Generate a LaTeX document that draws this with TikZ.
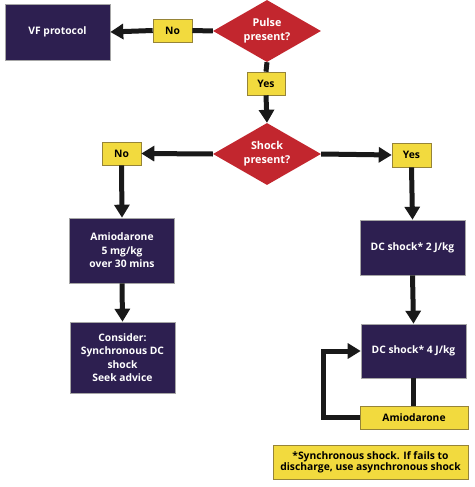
\documentclass[tikz,border=0pt]{standalone}
\usepackage{fontspec}
\setmainfont{Open Sans}
\usetikzlibrary{arrows.meta,shapes.geometric}
\definecolor{algP}{RGB}{45,31,80}
\definecolor{algR}{RGB}{194,38,46}
\definecolor{algY}{RGB}{242,218,62}
\definecolor{algYd}{RGB}{150,132,56}

\begin{document}
\begin{tikzpicture}[x={(1pt,0pt)},y={(0pt,-1pt)},>={Triangle[length=13pt,width=15pt]},
  font=\bfseries\fontsize{10.3}{13.5}\selectfont,
  actbox/.style={fill=algP,draw=gray!70,line width=0.6pt,text=white,align=center,inner sep=0pt},
  askbox/.style={diamond,fill=algR,text=white,align=center,inner sep=0pt,aspect=1.75,minimum width=108pt,minimum height=62pt,font=\bfseries\fontsize{10.8}{14}\selectfont},
  tagbox/.style={fill=algY,draw=algYd,line width=0.6pt,align=center,inner sep=0pt},
  flow/.style={line width=5pt,black!90}]
\useasboundingbox (0,0) rectangle (474,487);
% decisions
\node[askbox] (pulse) at (267,31) {Pulse\\present?};
\node[askbox] (shock) at (267,154) {Shock\\present?};
% actions
\node[actbox,minimum width=105pt,minimum height=56pt] (vf) at (57.5,32) {VF protocol};
\node[actbox,minimum width=105pt,minimum height=65pt] (amio) at (122,250.5) {Amiodarone\\5 mg/kg\\over 30 mins};
\node[actbox,minimum width=105pt,minimum height=71pt] (consider) at (122.5,357.5) {Consider:\\Synchronous DC\\shock\\Seek advice};
\node[actbox,minimum width=105pt,minimum height=55pt] (dc2) at (412.5,247.5) {DC shock* 2 J/kg};
\node[actbox,minimum width=105pt,minimum height=54pt] (dc4) at (413.5,351) {DC shock* 4 J/kg};
% labels
\node[tagbox,minimum width=39pt,minimum height=23pt] (no1) at (172.5,30.5) {No};
\node[tagbox,minimum width=38pt,minimum height=23pt] (yes1) at (266,83.5) {Yes};
\node[tagbox,minimum width=39pt,minimum height=23pt] (no2) at (121.5,153.5) {No};
\node[tagbox,minimum width=39pt,minimum height=24pt] (yes2) at (411.5,155) {Yes};
\node[tagbox,minimum width=108pt,minimum height=23pt] (amio2) at (414,417.5) {Amiodarone};
\node[tagbox,minimum width=195pt,minimum height=34pt,font=\bfseries\fontsize{10.3}{9}\selectfont] (note) at (370.5,462) {*Synchronous shock. If fails to\\discharge, use asynchronous shock};
\coordinate (loop) at (323.5,417.5);
% connectors
\draw[flow] (pulse.west) -- (no1.east);
\draw[flow,->] (no1.west) -- (vf.east);
\draw[flow] (pulse.south) -- (yes1.north);
\draw[flow,->] (yes1.south) -- (shock.north);
\draw[flow,->] (shock.west) -- (no2.east);
\draw[flow,->] (shock.east) -- (yes2.west);
\draw[flow,->] (no2.south) -- (amio.north);
\draw[flow,->] (yes2.south) -- (dc2.north);
\draw[flow,->] (amio.south) -- (consider.north);
\draw[flow,->] (dc2.south) -- (dc4.north);
\draw[flow] (dc4.south) -- (amio2.north -| dc4.south);
\draw[flow,->] (amio2.west) -- (loop) |- (dc4.west);
\end{tikzpicture}
\end{document}
